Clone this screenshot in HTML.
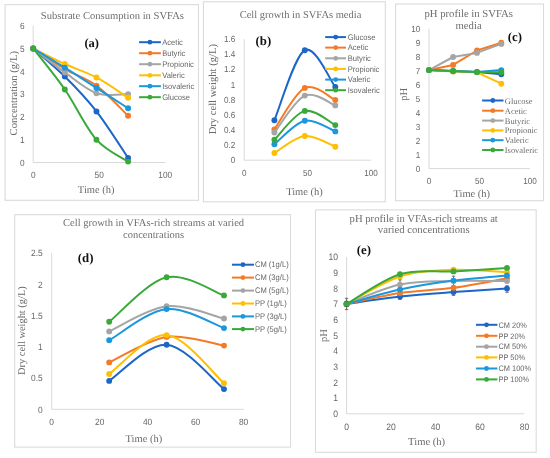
<!DOCTYPE html>
<html><head><meta charset="utf-8"><style>
html,body{margin:0;padding:0;background:#fff;width:550px;height:458px;overflow:hidden}
svg{display:block;text-rendering:geometricPrecision;will-change:transform;filter:blur(0.35px)}
</style></head><body>
<svg width="550" height="458" viewBox="0 0 550 458">
<rect width="550" height="458" fill="#fff"/>
<rect x="5.1" y="4.6" width="193.4" height="195.70000000000002" fill="#fff" stroke="#dbdbdb" stroke-width="1.1"/>
<text x="112.4" y="18.9" font-family="'Liberation Serif', serif" font-size="10.6" fill="#6e6e6e" text-anchor="middle" font-weight="normal">Substrate Consumption in SVFAs</text>
<line x1="33.2" y1="25.69999999999999" x2="33.2" y2="162.5" stroke="#d9d9d9" stroke-width="1"/>
<line x1="33.2" y1="162.5" x2="165.2" y2="162.5" stroke="#d9d9d9" stroke-width="1"/>
<text transform="translate(24.6 165.7) scale(0.92 1)" font-family="'Liberation Sans', sans-serif" font-size="9.0" fill="#666666" text-anchor="end" font-weight="normal">0</text>
<text transform="translate(24.6 142.89999999999998) scale(0.92 1)" font-family="'Liberation Sans', sans-serif" font-size="9.0" fill="#666666" text-anchor="end" font-weight="normal">1</text>
<text transform="translate(24.6 120.10000000000001) scale(0.92 1)" font-family="'Liberation Sans', sans-serif" font-size="9.0" fill="#666666" text-anchor="end" font-weight="normal">2</text>
<text transform="translate(24.6 97.3) scale(0.92 1)" font-family="'Liberation Sans', sans-serif" font-size="9.0" fill="#666666" text-anchor="end" font-weight="normal">3</text>
<text transform="translate(24.6 74.5) scale(0.92 1)" font-family="'Liberation Sans', sans-serif" font-size="9.0" fill="#666666" text-anchor="end" font-weight="normal">4</text>
<text transform="translate(24.6 51.7) scale(0.92 1)" font-family="'Liberation Sans', sans-serif" font-size="9.0" fill="#666666" text-anchor="end" font-weight="normal">5</text>
<text transform="translate(24.6 28.899999999999988) scale(0.92 1)" font-family="'Liberation Sans', sans-serif" font-size="9.0" fill="#666666" text-anchor="end" font-weight="normal">6</text>
<text transform="translate(33.2 178.2) scale(0.92 1)" font-family="'Liberation Sans', sans-serif" font-size="9.0" fill="#666666" text-anchor="middle" font-weight="normal">0</text>
<text transform="translate(99.2 178.2) scale(0.92 1)" font-family="'Liberation Sans', sans-serif" font-size="9.0" fill="#666666" text-anchor="middle" font-weight="normal">50</text>
<text transform="translate(165.2 178.2) scale(0.92 1)" font-family="'Liberation Sans', sans-serif" font-size="9.0" fill="#666666" text-anchor="middle" font-weight="normal">100</text>
<text x="96.2" y="192.5" font-family="'Liberation Serif', serif" font-size="10.5" fill="#6a6a6a" text-anchor="middle" font-weight="normal">Time (h)</text>
<text x="16.8" y="93.2" font-family="'Liberation Serif', serif" font-size="10.6" fill="#6a6a6a" text-anchor="middle" font-weight="normal" transform="rotate(-90 16.8 93.2)">Concentration (g/L)</text>
<text x="91.75" y="47.2" font-family="'Liberation Serif', serif" font-size="12.5" fill="#111" text-anchor="middle" font-weight="bold">(a)</text>
<path d="M33.20,48.50 C38.47,53.17 54.29,66.06 64.83,76.54 C75.38,87.03 85.92,97.86 96.46,111.43 C107.01,124.99 122.82,150.19 128.10,157.94" fill="none" stroke="#1c66c8" stroke-width="2.0" stroke-linejoin="round" stroke-linecap="round"/>
<circle cx="33.20" cy="48.50" r="2.95" fill="#1c66c8"/>
<circle cx="64.83" cy="76.54" r="2.95" fill="#1c66c8"/>
<circle cx="96.46" cy="111.43" r="2.95" fill="#1c66c8"/>
<circle cx="128.10" cy="157.94" r="2.95" fill="#1c66c8"/>
<path d="M33.20,48.50 C38.47,51.92 54.29,62.83 64.83,69.02 C75.38,75.21 85.92,77.87 96.46,85.66 C107.01,93.45 122.82,110.74 128.10,115.76" fill="none" stroke="#f57a26" stroke-width="2.0" stroke-linejoin="round" stroke-linecap="round"/>
<circle cx="33.20" cy="48.50" r="2.95" fill="#f57a26"/>
<circle cx="64.83" cy="69.02" r="2.95" fill="#f57a26"/>
<circle cx="96.46" cy="85.66" r="2.95" fill="#f57a26"/>
<circle cx="128.10" cy="115.76" r="2.95" fill="#f57a26"/>
<path d="M33.20,48.50 C38.47,52.49 54.29,64.99 64.83,72.44 C75.38,79.89 85.92,89.58 96.46,93.19 C107.01,96.80 122.82,93.95 128.10,94.10" fill="none" stroke="#a5a5a5" stroke-width="2.0" stroke-linejoin="round" stroke-linecap="round"/>
<circle cx="33.20" cy="48.50" r="2.95" fill="#a5a5a5"/>
<circle cx="64.83" cy="72.44" r="2.95" fill="#a5a5a5"/>
<circle cx="96.46" cy="93.19" r="2.95" fill="#a5a5a5"/>
<circle cx="128.10" cy="94.10" r="2.95" fill="#a5a5a5"/>
<path d="M33.20,48.50 C38.47,51.08 54.29,59.18 64.83,64.00 C75.38,68.83 85.92,71.83 96.46,77.46 C107.01,83.08 122.82,94.37 128.10,97.75" fill="none" stroke="#ffbf00" stroke-width="2.0" stroke-linejoin="round" stroke-linecap="round"/>
<circle cx="33.20" cy="48.50" r="2.95" fill="#ffbf00"/>
<circle cx="64.83" cy="64.00" r="2.95" fill="#ffbf00"/>
<circle cx="96.46" cy="77.46" r="2.95" fill="#ffbf00"/>
<circle cx="128.10" cy="97.75" r="2.95" fill="#ffbf00"/>
<path d="M33.20,48.50 C38.47,51.69 54.29,61.08 64.83,67.65 C75.38,74.23 85.92,81.18 96.46,87.94 C107.01,94.71 122.82,104.85 128.10,108.24" fill="none" stroke="#1b97dc" stroke-width="2.0" stroke-linejoin="round" stroke-linecap="round"/>
<circle cx="33.20" cy="48.50" r="2.95" fill="#1b97dc"/>
<circle cx="64.83" cy="67.65" r="2.95" fill="#1b97dc"/>
<circle cx="96.46" cy="87.94" r="2.95" fill="#1b97dc"/>
<circle cx="128.10" cy="108.24" r="2.95" fill="#1b97dc"/>
<path d="M33.20,48.50 C38.47,55.34 54.29,74.34 64.83,89.54 C75.38,104.74 85.92,127.69 96.46,139.70 C107.01,151.71 122.82,157.94 128.10,161.59" fill="none" stroke="#39a939" stroke-width="2.0" stroke-linejoin="round" stroke-linecap="round"/>
<circle cx="33.20" cy="48.50" r="2.95" fill="#39a939"/>
<circle cx="64.83" cy="89.54" r="2.95" fill="#39a939"/>
<circle cx="96.46" cy="139.70" r="2.95" fill="#39a939"/>
<circle cx="128.10" cy="161.59" r="2.95" fill="#39a939"/>
<line x1="139.1" y1="42.2" x2="160.9" y2="42.2" stroke="#1c66c8" stroke-width="2.0"/>
<circle cx="149.9" cy="42.2" r="2.4" fill="#1c66c8"/>
<text transform="translate(162.2 44.900000000000006) scale(0.935 1)" font-family="'Liberation Sans', sans-serif" font-size="8.132" fill="#666666" text-anchor="start" font-weight="normal">Acetic</text>
<line x1="139.1" y1="53.2" x2="160.9" y2="53.2" stroke="#f57a26" stroke-width="2.0"/>
<circle cx="149.9" cy="53.2" r="2.4" fill="#f57a26"/>
<text transform="translate(162.2 55.900000000000006) scale(0.935 1)" font-family="'Liberation Sans', sans-serif" font-size="8.132" fill="#666666" text-anchor="start" font-weight="normal">Butyric</text>
<line x1="139.1" y1="64.2" x2="160.9" y2="64.2" stroke="#a5a5a5" stroke-width="2.0"/>
<circle cx="149.9" cy="64.2" r="2.4" fill="#a5a5a5"/>
<text transform="translate(162.2 66.9) scale(0.935 1)" font-family="'Liberation Sans', sans-serif" font-size="8.132" fill="#666666" text-anchor="start" font-weight="normal">Propionic</text>
<line x1="139.1" y1="75.3" x2="160.9" y2="75.3" stroke="#ffbf00" stroke-width="2.0"/>
<circle cx="149.9" cy="75.3" r="2.4" fill="#ffbf00"/>
<text transform="translate(162.2 78.0) scale(0.935 1)" font-family="'Liberation Sans', sans-serif" font-size="8.132" fill="#666666" text-anchor="start" font-weight="normal">Valeric</text>
<line x1="139.1" y1="86.2" x2="160.9" y2="86.2" stroke="#1b97dc" stroke-width="2.0"/>
<circle cx="149.9" cy="86.2" r="2.4" fill="#1b97dc"/>
<text transform="translate(162.2 88.9) scale(0.935 1)" font-family="'Liberation Sans', sans-serif" font-size="8.132" fill="#666666" text-anchor="start" font-weight="normal">Isovaleric</text>
<line x1="139.1" y1="97.2" x2="160.9" y2="97.2" stroke="#39a939" stroke-width="2.0"/>
<circle cx="149.9" cy="97.2" r="2.4" fill="#39a939"/>
<text transform="translate(162.2 99.9) scale(0.935 1)" font-family="'Liberation Sans', sans-serif" font-size="8.132" fill="#666666" text-anchor="start" font-weight="normal">Glucose</text>
<rect x="203.4" y="1.7" width="181.9" height="200.10000000000002" fill="#fff" stroke="#dbdbdb" stroke-width="1.1"/>
<text x="300.5" y="17.9" font-family="'Liberation Serif', serif" font-size="10.5" fill="#6e6e6e" text-anchor="middle" font-weight="normal">Cell growth in SVFAs media</text>
<line x1="244.2" y1="39.079999999999984" x2="244.2" y2="160.2" stroke="#d9d9d9" stroke-width="1"/>
<line x1="244.2" y1="160.2" x2="371.2" y2="160.2" stroke="#d9d9d9" stroke-width="1"/>
<text transform="translate(235.2 163.29999999999998) scale(0.92 1)" font-family="'Liberation Sans', sans-serif" font-size="8.8" fill="#666666" text-anchor="end" font-weight="normal">0</text>
<text transform="translate(235.2 148.16) scale(0.92 1)" font-family="'Liberation Sans', sans-serif" font-size="8.8" fill="#666666" text-anchor="end" font-weight="normal">0.2</text>
<text transform="translate(235.2 133.01999999999998) scale(0.92 1)" font-family="'Liberation Sans', sans-serif" font-size="8.8" fill="#666666" text-anchor="end" font-weight="normal">0.4</text>
<text transform="translate(235.2 117.87999999999997) scale(0.92 1)" font-family="'Liberation Sans', sans-serif" font-size="8.8" fill="#666666" text-anchor="end" font-weight="normal">0.6</text>
<text transform="translate(235.2 102.73999999999998) scale(0.92 1)" font-family="'Liberation Sans', sans-serif" font-size="8.8" fill="#666666" text-anchor="end" font-weight="normal">0.8</text>
<text transform="translate(235.2 87.59999999999998) scale(0.92 1)" font-family="'Liberation Sans', sans-serif" font-size="8.8" fill="#666666" text-anchor="end" font-weight="normal">1</text>
<text transform="translate(235.2 72.45999999999997) scale(0.92 1)" font-family="'Liberation Sans', sans-serif" font-size="8.8" fill="#666666" text-anchor="end" font-weight="normal">1.2</text>
<text transform="translate(235.2 57.31999999999997) scale(0.92 1)" font-family="'Liberation Sans', sans-serif" font-size="8.8" fill="#666666" text-anchor="end" font-weight="normal">1.4</text>
<text transform="translate(235.2 42.179999999999986) scale(0.92 1)" font-family="'Liberation Sans', sans-serif" font-size="8.8" fill="#666666" text-anchor="end" font-weight="normal">1.6</text>
<text transform="translate(244.2 175.9) scale(0.92 1)" font-family="'Liberation Sans', sans-serif" font-size="8.8" fill="#666666" text-anchor="middle" font-weight="normal">0</text>
<text transform="translate(307.54999999999995 175.9) scale(0.92 1)" font-family="'Liberation Sans', sans-serif" font-size="8.8" fill="#666666" text-anchor="middle" font-weight="normal">50</text>
<text transform="translate(370.9 175.9) scale(0.92 1)" font-family="'Liberation Sans', sans-serif" font-size="8.8" fill="#666666" text-anchor="middle" font-weight="normal">100</text>
<text x="304.5" y="195.2" font-family="'Liberation Serif', serif" font-size="10.5" fill="#6a6a6a" text-anchor="middle" font-weight="normal">Time (h)</text>
<text x="215.8" y="89.2" font-family="'Liberation Serif', serif" font-size="10.6" fill="#6a6a6a" text-anchor="middle" font-weight="normal" transform="rotate(-90 215.8 89.2)">Dry cell weight (g/L)</text>
<text x="263.35" y="45.4" font-family="'Liberation Serif', serif" font-size="12.8" fill="#111" text-anchor="middle" font-weight="bold">(b)</text>
<path d="M274.40,120.20 C279.47,108.53 294.65,55.75 304.80,50.20 C314.95,44.65 330.22,80.78 335.30,86.90" fill="none" stroke="#1c66c8" stroke-width="2.0" stroke-linejoin="round" stroke-linecap="round"/>
<circle cx="274.40" cy="120.20" r="2.95" fill="#1c66c8"/>
<circle cx="304.80" cy="50.20" r="2.95" fill="#1c66c8"/>
<circle cx="335.30" cy="86.90" r="2.95" fill="#1c66c8"/>
<path d="M274.40,129.40 C279.47,122.48 294.65,92.80 304.80,87.90 C314.95,83.00 330.22,97.98 335.30,100.00" fill="none" stroke="#f57a26" stroke-width="2.0" stroke-linejoin="round" stroke-linecap="round"/>
<circle cx="274.40" cy="129.40" r="2.95" fill="#f57a26"/>
<circle cx="304.80" cy="87.90" r="2.95" fill="#f57a26"/>
<circle cx="335.30" cy="100.00" r="2.95" fill="#f57a26"/>
<path d="M274.40,132.50 C279.47,126.35 294.65,100.12 304.80,95.60 C314.95,91.08 330.22,103.77 335.30,105.40" fill="none" stroke="#a5a5a5" stroke-width="2.0" stroke-linejoin="round" stroke-linecap="round"/>
<circle cx="274.40" cy="132.50" r="2.95" fill="#a5a5a5"/>
<circle cx="304.80" cy="95.60" r="2.95" fill="#a5a5a5"/>
<circle cx="335.30" cy="105.40" r="2.95" fill="#a5a5a5"/>
<path d="M274.40,153.00 C279.47,150.17 294.65,137.05 304.80,136.00 C314.95,134.95 330.22,144.92 335.30,146.70" fill="none" stroke="#ffbf00" stroke-width="2.0" stroke-linejoin="round" stroke-linecap="round"/>
<circle cx="274.40" cy="153.00" r="2.95" fill="#ffbf00"/>
<circle cx="304.80" cy="136.00" r="2.95" fill="#ffbf00"/>
<circle cx="335.30" cy="146.70" r="2.95" fill="#ffbf00"/>
<path d="M274.40,144.30 C279.47,140.37 294.65,122.85 304.80,120.70 C314.95,118.55 330.22,129.62 335.30,131.40" fill="none" stroke="#1b97dc" stroke-width="2.0" stroke-linejoin="round" stroke-linecap="round"/>
<circle cx="274.40" cy="144.30" r="2.95" fill="#1b97dc"/>
<circle cx="304.80" cy="120.70" r="2.95" fill="#1b97dc"/>
<circle cx="335.30" cy="131.40" r="2.95" fill="#1b97dc"/>
<path d="M274.40,139.70 C279.47,134.90 294.65,113.33 304.80,110.90 C314.95,108.47 330.22,122.73 335.30,125.10" fill="none" stroke="#39a939" stroke-width="2.0" stroke-linejoin="round" stroke-linecap="round"/>
<circle cx="274.40" cy="139.70" r="2.95" fill="#39a939"/>
<circle cx="304.80" cy="110.90" r="2.95" fill="#39a939"/>
<circle cx="335.30" cy="125.10" r="2.95" fill="#39a939"/>
<line x1="325.2" y1="37.1" x2="346.0" y2="37.1" stroke="#1c66c8" stroke-width="2.0"/>
<circle cx="335.7" cy="37.1" r="2.4" fill="#1c66c8"/>
<text transform="translate(347.7 39.800000000000004) scale(0.935 1)" font-family="'Liberation Sans', sans-serif" font-size="8.132" fill="#666666" text-anchor="start" font-weight="normal">Glucose</text>
<line x1="325.2" y1="47.6" x2="346.0" y2="47.6" stroke="#f57a26" stroke-width="2.0"/>
<circle cx="335.7" cy="47.6" r="2.4" fill="#f57a26"/>
<text transform="translate(347.7 50.300000000000004) scale(0.935 1)" font-family="'Liberation Sans', sans-serif" font-size="8.132" fill="#666666" text-anchor="start" font-weight="normal">Acetic</text>
<line x1="325.2" y1="58.3" x2="346.0" y2="58.3" stroke="#a5a5a5" stroke-width="2.0"/>
<circle cx="335.7" cy="58.3" r="2.4" fill="#a5a5a5"/>
<text transform="translate(347.7 61.0) scale(0.935 1)" font-family="'Liberation Sans', sans-serif" font-size="8.132" fill="#666666" text-anchor="start" font-weight="normal">Butyric</text>
<line x1="325.2" y1="68.9" x2="346.0" y2="68.9" stroke="#ffbf00" stroke-width="2.0"/>
<circle cx="335.7" cy="68.9" r="2.4" fill="#ffbf00"/>
<text transform="translate(347.7 71.60000000000001) scale(0.935 1)" font-family="'Liberation Sans', sans-serif" font-size="8.132" fill="#666666" text-anchor="start" font-weight="normal">Propionic</text>
<line x1="325.2" y1="79.6" x2="346.0" y2="79.6" stroke="#1b97dc" stroke-width="2.0"/>
<circle cx="335.7" cy="79.6" r="2.4" fill="#1b97dc"/>
<text transform="translate(347.7 82.3) scale(0.935 1)" font-family="'Liberation Sans', sans-serif" font-size="8.132" fill="#666666" text-anchor="start" font-weight="normal">Valeric</text>
<line x1="325.2" y1="90.2" x2="346.0" y2="90.2" stroke="#39a939" stroke-width="2.0"/>
<circle cx="335.7" cy="90.2" r="2.4" fill="#39a939"/>
<text transform="translate(347.7 92.9) scale(0.935 1)" font-family="'Liberation Sans', sans-serif" font-size="8.132" fill="#666666" text-anchor="start" font-weight="normal">Isovaleric</text>
<rect x="395.6" y="4.0" width="147.89999999999998" height="196.7" fill="#fff" stroke="#dbdbdb" stroke-width="1.1"/>
<text x="468.7" y="16.9" font-family="'Liberation Serif', serif" font-size="10.7" fill="#6e6e6e" text-anchor="middle" font-weight="normal">pH profile in SVFAs</text>
<text x="468.6" y="28.5" font-family="'Liberation Serif', serif" font-size="10.7" fill="#6e6e6e" text-anchor="middle" font-weight="normal">media</text>
<line x1="429.0" y1="28.5" x2="429.0" y2="168.6" stroke="#d9d9d9" stroke-width="1"/>
<line x1="429.0" y1="168.6" x2="529.8" y2="168.6" stroke="#d9d9d9" stroke-width="1"/>
<text transform="translate(420.2 171.75) scale(0.92 1)" font-family="'Liberation Sans', sans-serif" font-size="8.8" fill="#666666" text-anchor="end" font-weight="normal">0</text>
<text transform="translate(420.2 157.74) scale(0.92 1)" font-family="'Liberation Sans', sans-serif" font-size="8.8" fill="#666666" text-anchor="end" font-weight="normal">1</text>
<text transform="translate(420.2 143.73) scale(0.92 1)" font-family="'Liberation Sans', sans-serif" font-size="8.8" fill="#666666" text-anchor="end" font-weight="normal">2</text>
<text transform="translate(420.2 129.72) scale(0.92 1)" font-family="'Liberation Sans', sans-serif" font-size="8.8" fill="#666666" text-anchor="end" font-weight="normal">3</text>
<text transform="translate(420.2 115.71000000000001) scale(0.92 1)" font-family="'Liberation Sans', sans-serif" font-size="8.8" fill="#666666" text-anchor="end" font-weight="normal">4</text>
<text transform="translate(420.2 101.7) scale(0.92 1)" font-family="'Liberation Sans', sans-serif" font-size="8.8" fill="#666666" text-anchor="end" font-weight="normal">5</text>
<text transform="translate(420.2 87.69) scale(0.92 1)" font-family="'Liberation Sans', sans-serif" font-size="8.8" fill="#666666" text-anchor="end" font-weight="normal">6</text>
<text transform="translate(420.2 73.68) scale(0.92 1)" font-family="'Liberation Sans', sans-serif" font-size="8.8" fill="#666666" text-anchor="end" font-weight="normal">7</text>
<text transform="translate(420.2 59.669999999999995) scale(0.92 1)" font-family="'Liberation Sans', sans-serif" font-size="8.8" fill="#666666" text-anchor="end" font-weight="normal">8</text>
<text transform="translate(420.2 45.65999999999999) scale(0.92 1)" font-family="'Liberation Sans', sans-serif" font-size="8.8" fill="#666666" text-anchor="end" font-weight="normal">9</text>
<text transform="translate(420.2 31.65) scale(0.92 1)" font-family="'Liberation Sans', sans-serif" font-size="8.8" fill="#666666" text-anchor="end" font-weight="normal">10</text>
<text transform="translate(429.0 184.0) scale(0.93 1)" font-family="'Liberation Sans', sans-serif" font-size="8.8" fill="#666666" text-anchor="middle" font-weight="normal">0</text>
<text transform="translate(479.5 184.0) scale(0.93 1)" font-family="'Liberation Sans', sans-serif" font-size="8.8" fill="#666666" text-anchor="middle" font-weight="normal">50</text>
<text transform="translate(530.0 184.0) scale(0.93 1)" font-family="'Liberation Sans', sans-serif" font-size="8.8" fill="#666666" text-anchor="middle" font-weight="normal">100</text>
<text x="471.8" y="197.0" font-family="'Liberation Serif', serif" font-size="10.5" fill="#6a6a6a" text-anchor="middle" font-weight="normal">Time (h)</text>
<text x="407.5" y="94.3" font-family="'Liberation Serif', serif" font-size="10.5" fill="#6a6a6a" text-anchor="middle" font-weight="normal" transform="rotate(-90 407.5 94.3)">pH</text>
<text x="514.95" y="40.9" font-family="'Liberation Serif', serif" font-size="12.8" fill="#111" text-anchor="middle" font-weight="bold">(c)</text>
<path d="M429.00,70.10 L453.10,71.20 L477.00,72.10 L501.30,74.20" fill="none" stroke="#1c66c8" stroke-width="2.0" stroke-linejoin="round" stroke-linecap="round"/>
<circle cx="429.00" cy="70.10" r="2.95" fill="#1c66c8"/>
<circle cx="453.10" cy="71.20" r="2.95" fill="#1c66c8"/>
<circle cx="477.00" cy="72.10" r="2.95" fill="#1c66c8"/>
<circle cx="501.30" cy="74.20" r="2.95" fill="#1c66c8"/>
<path d="M429.00,70.10 L453.10,64.90 L477.00,50.50 L501.30,42.80" fill="none" stroke="#f57a26" stroke-width="2.0" stroke-linejoin="round" stroke-linecap="round"/>
<circle cx="429.00" cy="70.10" r="2.95" fill="#f57a26"/>
<circle cx="453.10" cy="64.90" r="2.95" fill="#f57a26"/>
<circle cx="477.00" cy="50.50" r="2.95" fill="#f57a26"/>
<circle cx="501.30" cy="42.80" r="2.95" fill="#f57a26"/>
<path d="M429.00,70.10 L453.10,57.00 L477.00,52.90 L501.30,43.90" fill="none" stroke="#a5a5a5" stroke-width="2.0" stroke-linejoin="round" stroke-linecap="round"/>
<circle cx="429.00" cy="70.10" r="2.95" fill="#a5a5a5"/>
<circle cx="453.10" cy="57.00" r="2.95" fill="#a5a5a5"/>
<circle cx="477.00" cy="52.90" r="2.95" fill="#a5a5a5"/>
<circle cx="501.30" cy="43.90" r="2.95" fill="#a5a5a5"/>
<path d="M429.00,70.10 L453.10,71.60 L477.00,72.30 L501.30,83.70" fill="none" stroke="#ffbf00" stroke-width="2.0" stroke-linejoin="round" stroke-linecap="round"/>
<circle cx="429.00" cy="70.10" r="2.95" fill="#ffbf00"/>
<circle cx="453.10" cy="71.60" r="2.95" fill="#ffbf00"/>
<circle cx="477.00" cy="72.30" r="2.95" fill="#ffbf00"/>
<circle cx="501.30" cy="83.70" r="2.95" fill="#ffbf00"/>
<path d="M429.00,70.10 L453.10,71.00 L477.00,71.90 L501.30,70.10" fill="none" stroke="#1b97dc" stroke-width="2.0" stroke-linejoin="round" stroke-linecap="round"/>
<circle cx="429.00" cy="70.10" r="2.95" fill="#1b97dc"/>
<circle cx="453.10" cy="71.00" r="2.95" fill="#1b97dc"/>
<circle cx="477.00" cy="71.90" r="2.95" fill="#1b97dc"/>
<circle cx="501.30" cy="70.10" r="2.95" fill="#1b97dc"/>
<path d="M429.00,70.10 L453.10,70.90 L477.00,72.10 L501.30,72.20" fill="none" stroke="#39a939" stroke-width="2.0" stroke-linejoin="round" stroke-linecap="round"/>
<circle cx="429.00" cy="70.10" r="2.95" fill="#39a939"/>
<circle cx="453.10" cy="70.90" r="2.95" fill="#39a939"/>
<circle cx="477.00" cy="72.10" r="2.95" fill="#39a939"/>
<circle cx="501.30" cy="72.20" r="2.95" fill="#39a939"/>
<line x1="482.1" y1="100.5" x2="503.5" y2="100.5" stroke="#1c66c8" stroke-width="2.0"/>
<circle cx="492.8" cy="100.5" r="2.4" fill="#1c66c8"/>
<text x="504.8" y="103.5" font-family="'Liberation Serif', serif" font-size="8.45" fill="#6a6a6a" text-anchor="start" font-weight="normal">Glucose</text>
<line x1="482.1" y1="110.7" x2="503.5" y2="110.7" stroke="#f57a26" stroke-width="2.0"/>
<circle cx="492.8" cy="110.7" r="2.4" fill="#f57a26"/>
<text x="504.8" y="113.7" font-family="'Liberation Serif', serif" font-size="8.45" fill="#6a6a6a" text-anchor="start" font-weight="normal">Acetic</text>
<line x1="482.1" y1="120.6" x2="503.5" y2="120.6" stroke="#a5a5a5" stroke-width="2.0"/>
<circle cx="492.8" cy="120.6" r="2.4" fill="#a5a5a5"/>
<text x="504.8" y="123.6" font-family="'Liberation Serif', serif" font-size="8.45" fill="#6a6a6a" text-anchor="start" font-weight="normal">Butyric</text>
<line x1="482.1" y1="130.4" x2="503.5" y2="130.4" stroke="#ffbf00" stroke-width="2.0"/>
<circle cx="492.8" cy="130.4" r="2.4" fill="#ffbf00"/>
<text x="504.8" y="133.4" font-family="'Liberation Serif', serif" font-size="8.45" fill="#6a6a6a" text-anchor="start" font-weight="normal">Propionic</text>
<line x1="482.1" y1="140.2" x2="503.5" y2="140.2" stroke="#1b97dc" stroke-width="2.0"/>
<circle cx="492.8" cy="140.2" r="2.4" fill="#1b97dc"/>
<text x="504.8" y="143.2" font-family="'Liberation Serif', serif" font-size="8.45" fill="#6a6a6a" text-anchor="start" font-weight="normal">Valeric</text>
<line x1="482.1" y1="150.0" x2="503.5" y2="150.0" stroke="#39a939" stroke-width="2.0"/>
<circle cx="492.8" cy="150.0" r="2.4" fill="#39a939"/>
<text x="504.8" y="153.0" font-family="'Liberation Serif', serif" font-size="8.45" fill="#6a6a6a" text-anchor="start" font-weight="normal">Isovaleric</text>
<rect x="14.7" y="214.7" width="275.8" height="232.40000000000003" fill="#fff" stroke="#dbdbdb" stroke-width="1.1"/>
<text x="153.6" y="226.0" font-family="'Liberation Serif', serif" font-size="10.5" fill="#6e6e6e" text-anchor="middle" font-weight="normal">Cell growth in VFAs-rich streams at varied</text>
<text x="153.6" y="238.3" font-family="'Liberation Serif', serif" font-size="10.5" fill="#6e6e6e" text-anchor="middle" font-weight="normal">concentrations</text>
<line x1="51.7" y1="253.05" x2="51.7" y2="409.3" stroke="#d9d9d9" stroke-width="1"/>
<line x1="51.7" y1="409.3" x2="243.8" y2="409.3" stroke="#d9d9d9" stroke-width="1"/>
<text transform="translate(42.7 412.55) scale(0.92 1)" font-family="'Liberation Sans', sans-serif" font-size="9.1" fill="#666666" text-anchor="end" font-weight="normal">0</text>
<text transform="translate(42.7 381.3) scale(0.92 1)" font-family="'Liberation Sans', sans-serif" font-size="9.1" fill="#666666" text-anchor="end" font-weight="normal">0.5</text>
<text transform="translate(42.7 350.05) scale(0.92 1)" font-family="'Liberation Sans', sans-serif" font-size="9.1" fill="#666666" text-anchor="end" font-weight="normal">1</text>
<text transform="translate(42.7 318.8) scale(0.92 1)" font-family="'Liberation Sans', sans-serif" font-size="9.1" fill="#666666" text-anchor="end" font-weight="normal">1.5</text>
<text transform="translate(42.7 287.55) scale(0.92 1)" font-family="'Liberation Sans', sans-serif" font-size="9.1" fill="#666666" text-anchor="end" font-weight="normal">2</text>
<text transform="translate(42.7 256.3) scale(0.92 1)" font-family="'Liberation Sans', sans-serif" font-size="9.1" fill="#666666" text-anchor="end" font-weight="normal">2.5</text>
<text transform="translate(51.7 424.5) scale(0.92 1)" font-family="'Liberation Sans', sans-serif" font-size="9.1" fill="#666666" text-anchor="middle" font-weight="normal">0</text>
<text transform="translate(99.66 424.5) scale(0.92 1)" font-family="'Liberation Sans', sans-serif" font-size="9.1" fill="#666666" text-anchor="middle" font-weight="normal">20</text>
<text transform="translate(147.62 424.5) scale(0.92 1)" font-family="'Liberation Sans', sans-serif" font-size="9.1" fill="#666666" text-anchor="middle" font-weight="normal">40</text>
<text transform="translate(195.57999999999998 424.5) scale(0.92 1)" font-family="'Liberation Sans', sans-serif" font-size="9.1" fill="#666666" text-anchor="middle" font-weight="normal">60</text>
<text transform="translate(243.54000000000002 424.5) scale(0.92 1)" font-family="'Liberation Sans', sans-serif" font-size="9.1" fill="#666666" text-anchor="middle" font-weight="normal">80</text>
<text x="143.9" y="442.0" font-family="'Liberation Serif', serif" font-size="10.5" fill="#6a6a6a" text-anchor="middle" font-weight="normal">Time (h)</text>
<text x="25.5" y="330.6" font-family="'Liberation Serif', serif" font-size="10.4" fill="#6a6a6a" text-anchor="middle" font-weight="normal" transform="rotate(-90 25.5 330.6)">Dry cell weight (g/L)</text>
<text x="85.6" y="262.3" font-family="'Liberation Serif', serif" font-size="12.8" fill="#111" text-anchor="middle" font-weight="bold">(d)</text>
<path d="M109.20,380.90 C118.77,374.87 147.47,343.33 166.60,344.70 C185.73,346.07 214.43,381.70 224.00,389.10" fill="none" stroke="#1c66c8" stroke-width="2.0" stroke-linejoin="round" stroke-linecap="round"/>
<circle cx="109.20" cy="380.90" r="2.95" fill="#1c66c8"/>
<circle cx="166.60" cy="344.70" r="2.95" fill="#1c66c8"/>
<circle cx="224.00" cy="389.10" r="2.95" fill="#1c66c8"/>
<path d="M109.20,362.40 C118.77,358.15 147.47,339.70 166.60,336.90 C185.73,334.10 214.43,344.15 224.00,345.60" fill="none" stroke="#f57a26" stroke-width="2.0" stroke-linejoin="round" stroke-linecap="round"/>
<circle cx="109.20" cy="362.40" r="2.95" fill="#f57a26"/>
<circle cx="166.60" cy="336.90" r="2.95" fill="#f57a26"/>
<circle cx="224.00" cy="345.60" r="2.95" fill="#f57a26"/>
<path d="M109.20,331.40 C118.77,327.22 147.47,308.45 166.60,306.30 C185.73,304.15 214.43,316.47 224.00,318.50" fill="none" stroke="#a5a5a5" stroke-width="2.0" stroke-linejoin="round" stroke-linecap="round"/>
<circle cx="109.20" cy="331.40" r="2.95" fill="#a5a5a5"/>
<circle cx="166.60" cy="306.30" r="2.95" fill="#a5a5a5"/>
<circle cx="224.00" cy="318.50" r="2.95" fill="#a5a5a5"/>
<path d="M109.20,374.00 C118.77,367.52 147.47,333.57 166.60,335.10 C185.73,336.63 214.43,375.18 224.00,383.20" fill="none" stroke="#ffbf00" stroke-width="2.0" stroke-linejoin="round" stroke-linecap="round"/>
<circle cx="109.20" cy="374.00" r="2.95" fill="#ffbf00"/>
<circle cx="166.60" cy="335.10" r="2.95" fill="#ffbf00"/>
<circle cx="224.00" cy="383.20" r="2.95" fill="#ffbf00"/>
<path d="M109.20,340.30 C118.77,335.10 147.47,311.13 166.60,309.10 C185.73,307.07 214.43,324.93 224.00,328.10" fill="none" stroke="#1b97dc" stroke-width="2.0" stroke-linejoin="round" stroke-linecap="round"/>
<circle cx="109.20" cy="340.30" r="2.95" fill="#1b97dc"/>
<circle cx="166.60" cy="309.10" r="2.95" fill="#1b97dc"/>
<circle cx="224.00" cy="328.10" r="2.95" fill="#1b97dc"/>
<path d="M109.20,321.80 C118.77,314.38 147.47,281.70 166.60,277.30 C185.73,272.90 214.43,292.38 224.00,295.40" fill="none" stroke="#39a939" stroke-width="2.0" stroke-linejoin="round" stroke-linecap="round"/>
<circle cx="109.20" cy="321.80" r="2.95" fill="#39a939"/>
<circle cx="166.60" cy="277.30" r="2.95" fill="#39a939"/>
<circle cx="224.00" cy="295.40" r="2.95" fill="#39a939"/>
<line x1="232.0" y1="264.7" x2="254.0" y2="264.7" stroke="#1c66c8" stroke-width="2.0"/>
<circle cx="242.9" cy="264.7" r="2.4" fill="#1c66c8"/>
<text transform="translate(254.9 267.4) scale(0.935 1)" font-family="'Liberation Sans', sans-serif" font-size="8.132" fill="#666666" text-anchor="start" font-weight="normal">CM (1g/L)</text>
<line x1="232.0" y1="277.6" x2="254.0" y2="277.6" stroke="#f57a26" stroke-width="2.0"/>
<circle cx="242.9" cy="277.6" r="2.4" fill="#f57a26"/>
<text transform="translate(254.9 280.3) scale(0.935 1)" font-family="'Liberation Sans', sans-serif" font-size="8.132" fill="#666666" text-anchor="start" font-weight="normal">CM (3g/L)</text>
<line x1="232.0" y1="290.6" x2="254.0" y2="290.6" stroke="#a5a5a5" stroke-width="2.0"/>
<circle cx="242.9" cy="290.6" r="2.4" fill="#a5a5a5"/>
<text transform="translate(254.9 293.3) scale(0.935 1)" font-family="'Liberation Sans', sans-serif" font-size="8.132" fill="#666666" text-anchor="start" font-weight="normal">CM (5g/L)</text>
<line x1="232.0" y1="303.5" x2="254.0" y2="303.5" stroke="#ffbf00" stroke-width="2.0"/>
<circle cx="242.9" cy="303.5" r="2.4" fill="#ffbf00"/>
<text transform="translate(254.9 306.2) scale(0.935 1)" font-family="'Liberation Sans', sans-serif" font-size="8.132" fill="#666666" text-anchor="start" font-weight="normal">PP (1g/L)</text>
<line x1="232.0" y1="316.4" x2="254.0" y2="316.4" stroke="#1b97dc" stroke-width="2.0"/>
<circle cx="242.9" cy="316.4" r="2.4" fill="#1b97dc"/>
<text transform="translate(254.9 319.09999999999997) scale(0.935 1)" font-family="'Liberation Sans', sans-serif" font-size="8.132" fill="#666666" text-anchor="start" font-weight="normal">PP (3g/L)</text>
<line x1="232.0" y1="329.1" x2="254.0" y2="329.1" stroke="#39a939" stroke-width="2.0"/>
<circle cx="242.9" cy="329.1" r="2.4" fill="#39a939"/>
<text transform="translate(254.9 331.8) scale(0.935 1)" font-family="'Liberation Sans', sans-serif" font-size="8.132" fill="#666666" text-anchor="start" font-weight="normal">PP (5g/L)</text>
<rect x="315.5" y="209.9" width="220.70000000000005" height="242.4" fill="#fff" stroke="#dbdbdb" stroke-width="1.1"/>
<text x="423.7" y="222.0" font-family="'Liberation Serif', serif" font-size="10.7" fill="#6e6e6e" text-anchor="middle" font-weight="normal">pH profile in VFAs-rich streams at</text>
<text x="423.7" y="233.0" font-family="'Liberation Serif', serif" font-size="10.7" fill="#6e6e6e" text-anchor="middle" font-weight="normal">varied concentrations</text>
<line x1="346.6" y1="256.9" x2="346.6" y2="413.8" stroke="#d9d9d9" stroke-width="1"/>
<line x1="346.6" y1="413.8" x2="524.4" y2="413.8" stroke="#d9d9d9" stroke-width="1"/>
<text transform="translate(338.1 417.1) scale(0.92 1)" font-family="'Liberation Sans', sans-serif" font-size="9.3" fill="#666666" text-anchor="end" font-weight="normal">0</text>
<text transform="translate(338.1 401.41) scale(0.92 1)" font-family="'Liberation Sans', sans-serif" font-size="9.3" fill="#666666" text-anchor="end" font-weight="normal">1</text>
<text transform="translate(338.1 385.72) scale(0.92 1)" font-family="'Liberation Sans', sans-serif" font-size="9.3" fill="#666666" text-anchor="end" font-weight="normal">2</text>
<text transform="translate(338.1 370.03000000000003) scale(0.92 1)" font-family="'Liberation Sans', sans-serif" font-size="9.3" fill="#666666" text-anchor="end" font-weight="normal">3</text>
<text transform="translate(338.1 354.34000000000003) scale(0.92 1)" font-family="'Liberation Sans', sans-serif" font-size="9.3" fill="#666666" text-anchor="end" font-weight="normal">4</text>
<text transform="translate(338.1 338.65000000000003) scale(0.92 1)" font-family="'Liberation Sans', sans-serif" font-size="9.3" fill="#666666" text-anchor="end" font-weight="normal">5</text>
<text transform="translate(338.1 322.96000000000004) scale(0.92 1)" font-family="'Liberation Sans', sans-serif" font-size="9.3" fill="#666666" text-anchor="end" font-weight="normal">6</text>
<text transform="translate(338.1 307.27000000000004) scale(0.92 1)" font-family="'Liberation Sans', sans-serif" font-size="9.3" fill="#666666" text-anchor="end" font-weight="normal">7</text>
<text transform="translate(338.1 291.58000000000004) scale(0.92 1)" font-family="'Liberation Sans', sans-serif" font-size="9.3" fill="#666666" text-anchor="end" font-weight="normal">8</text>
<text transform="translate(338.1 275.89000000000004) scale(0.92 1)" font-family="'Liberation Sans', sans-serif" font-size="9.3" fill="#666666" text-anchor="end" font-weight="normal">9</text>
<text transform="translate(338.1 260.2) scale(0.92 1)" font-family="'Liberation Sans', sans-serif" font-size="9.3" fill="#666666" text-anchor="end" font-weight="normal">10</text>
<text transform="translate(346.6 430.1) scale(0.92 1)" font-family="'Liberation Sans', sans-serif" font-size="9.3" fill="#666666" text-anchor="middle" font-weight="normal">0</text>
<text transform="translate(391.06 430.1) scale(0.92 1)" font-family="'Liberation Sans', sans-serif" font-size="9.3" fill="#666666" text-anchor="middle" font-weight="normal">20</text>
<text transform="translate(435.52 430.1) scale(0.92 1)" font-family="'Liberation Sans', sans-serif" font-size="9.3" fill="#666666" text-anchor="middle" font-weight="normal">40</text>
<text transform="translate(479.98 430.1) scale(0.92 1)" font-family="'Liberation Sans', sans-serif" font-size="9.3" fill="#666666" text-anchor="middle" font-weight="normal">60</text>
<text transform="translate(524.44 430.1) scale(0.92 1)" font-family="'Liberation Sans', sans-serif" font-size="9.3" fill="#666666" text-anchor="middle" font-weight="normal">80</text>
<text x="426.6" y="444.7" font-family="'Liberation Serif', serif" font-size="10.6" fill="#6a6a6a" text-anchor="middle" font-weight="normal">Time (h)</text>
<text x="326.6" y="335.5" font-family="'Liberation Serif', serif" font-size="10.5" fill="#6a6a6a" text-anchor="middle" font-weight="normal" transform="rotate(-90 326.6 335.5)">pH</text>
<text x="363.8" y="253.6" font-family="'Liberation Serif', serif" font-size="12.8" fill="#111" text-anchor="middle" font-weight="bold">(e)</text>
<line x1="346.6" y1="298.3" x2="346.6" y2="309.6" stroke="#606060" stroke-width="0.9"/>
<line x1="400.0" y1="279.9" x2="400.0" y2="299.4" stroke="#606060" stroke-width="0.9"/>
<line x1="453.5" y1="276.2" x2="453.5" y2="295.4" stroke="#606060" stroke-width="0.9"/>
<line x1="507.0" y1="285.8" x2="507.0" y2="292.3" stroke="#606060" stroke-width="0.9"/>
<path d="M346.60,304.00 C355.50,302.77 382.18,298.58 400.00,296.60 C417.82,294.62 435.67,293.43 453.50,292.10 C471.33,290.77 498.08,289.18 507.00,288.60" fill="none" stroke="#1c66c8" stroke-width="2.0" stroke-linejoin="round" stroke-linecap="round"/>
<circle cx="346.60" cy="304.00" r="2.95" fill="#1c66c8"/>
<circle cx="400.00" cy="296.60" r="2.95" fill="#1c66c8"/>
<circle cx="453.50" cy="292.10" r="2.95" fill="#1c66c8"/>
<circle cx="507.00" cy="288.60" r="2.95" fill="#1c66c8"/>
<path d="M346.60,304.00 C355.50,302.18 382.18,295.80 400.00,293.10 C417.82,290.40 435.67,290.28 453.50,287.80 C471.33,285.32 498.08,279.80 507.00,278.20" fill="none" stroke="#f57a26" stroke-width="2.0" stroke-linejoin="round" stroke-linecap="round"/>
<circle cx="346.60" cy="304.00" r="2.95" fill="#f57a26"/>
<circle cx="400.00" cy="293.10" r="2.95" fill="#f57a26"/>
<circle cx="453.50" cy="287.80" r="2.95" fill="#f57a26"/>
<circle cx="507.00" cy="278.20" r="2.95" fill="#f57a26"/>
<path d="M346.60,304.00 C355.50,300.77 382.18,288.43 400.00,284.60 C417.82,280.77 435.67,281.58 453.50,281.00 C471.33,280.42 498.08,281.08 507.00,281.10" fill="none" stroke="#a5a5a5" stroke-width="2.0" stroke-linejoin="round" stroke-linecap="round"/>
<circle cx="346.60" cy="304.00" r="2.95" fill="#a5a5a5"/>
<circle cx="400.00" cy="284.60" r="2.95" fill="#a5a5a5"/>
<circle cx="453.50" cy="281.00" r="2.95" fill="#a5a5a5"/>
<circle cx="507.00" cy="281.10" r="2.95" fill="#a5a5a5"/>
<path d="M346.60,304.00 C355.50,299.42 382.18,282.20 400.00,276.50 C417.82,270.80 435.67,270.52 453.50,269.80 C471.33,269.08 498.08,271.80 507.00,272.20" fill="none" stroke="#ffbf00" stroke-width="2.0" stroke-linejoin="round" stroke-linecap="round"/>
<circle cx="346.60" cy="304.00" r="2.95" fill="#ffbf00"/>
<circle cx="400.00" cy="276.50" r="2.95" fill="#ffbf00"/>
<circle cx="453.50" cy="269.80" r="2.95" fill="#ffbf00"/>
<circle cx="507.00" cy="272.20" r="2.95" fill="#ffbf00"/>
<path d="M346.60,304.00 C355.50,301.60 382.18,293.50 400.00,289.60 C417.82,285.70 435.67,282.95 453.50,280.60 C471.33,278.25 498.08,276.35 507.00,275.50" fill="none" stroke="#1b97dc" stroke-width="2.0" stroke-linejoin="round" stroke-linecap="round"/>
<circle cx="346.60" cy="304.00" r="2.95" fill="#1b97dc"/>
<circle cx="400.00" cy="289.60" r="2.95" fill="#1b97dc"/>
<circle cx="453.50" cy="280.60" r="2.95" fill="#1b97dc"/>
<circle cx="507.00" cy="275.50" r="2.95" fill="#1b97dc"/>
<path d="M346.60,304.00 C355.50,299.03 382.18,279.63 400.00,274.20 C417.82,268.77 435.67,272.45 453.50,271.40 C471.33,270.35 498.08,268.48 507.00,267.90" fill="none" stroke="#39a939" stroke-width="2.0" stroke-linejoin="round" stroke-linecap="round"/>
<circle cx="346.60" cy="304.00" r="2.95" fill="#39a939"/>
<circle cx="400.00" cy="274.20" r="2.95" fill="#39a939"/>
<circle cx="453.50" cy="271.40" r="2.95" fill="#39a939"/>
<circle cx="507.00" cy="267.90" r="2.95" fill="#39a939"/>
<line x1="344.90000000000003" y1="298.3" x2="348.3" y2="298.3" stroke="#606060" stroke-width="0.9"/>
<line x1="344.90000000000003" y1="309.6" x2="348.3" y2="309.6" stroke="#606060" stroke-width="0.9"/>
<line x1="398.3" y1="279.9" x2="401.7" y2="279.9" stroke="#606060" stroke-width="0.9"/>
<line x1="398.3" y1="299.4" x2="401.7" y2="299.4" stroke="#606060" stroke-width="0.9"/>
<line x1="451.8" y1="276.2" x2="455.2" y2="276.2" stroke="#606060" stroke-width="0.9"/>
<line x1="451.8" y1="295.4" x2="455.2" y2="295.4" stroke="#606060" stroke-width="0.9"/>
<line x1="505.3" y1="285.8" x2="508.7" y2="285.8" stroke="#606060" stroke-width="0.9"/>
<line x1="505.3" y1="292.3" x2="508.7" y2="292.3" stroke="#606060" stroke-width="0.9"/>
<line x1="344.90000000000003" y1="301.2" x2="348.3" y2="301.2" stroke="#606060" stroke-width="0.9"/>
<line x1="344.90000000000003" y1="306.6" x2="348.3" y2="306.6" stroke="#606060" stroke-width="0.9"/>
<line x1="476.0" y1="324.8" x2="497.4" y2="324.8" stroke="#1c66c8" stroke-width="2.0"/>
<circle cx="486.5" cy="324.8" r="2.4" fill="#1c66c8"/>
<text transform="translate(498.5 327.5) scale(0.935 1)" font-family="'Liberation Sans', sans-serif" font-size="7.918000000000001" fill="#666666" text-anchor="start" font-weight="normal">CM 20%</text>
<line x1="476.0" y1="335.8" x2="497.4" y2="335.8" stroke="#f57a26" stroke-width="2.0"/>
<circle cx="486.5" cy="335.8" r="2.4" fill="#f57a26"/>
<text transform="translate(498.5 338.5) scale(0.935 1)" font-family="'Liberation Sans', sans-serif" font-size="7.918000000000001" fill="#666666" text-anchor="start" font-weight="normal">PP 20%</text>
<line x1="476.0" y1="346.7" x2="497.4" y2="346.7" stroke="#a5a5a5" stroke-width="2.0"/>
<circle cx="486.5" cy="346.7" r="2.4" fill="#a5a5a5"/>
<text transform="translate(498.5 349.4) scale(0.935 1)" font-family="'Liberation Sans', sans-serif" font-size="7.918000000000001" fill="#666666" text-anchor="start" font-weight="normal">CM 50%</text>
<line x1="476.0" y1="357.4" x2="497.4" y2="357.4" stroke="#ffbf00" stroke-width="2.0"/>
<circle cx="486.5" cy="357.4" r="2.4" fill="#ffbf00"/>
<text transform="translate(498.5 360.09999999999997) scale(0.935 1)" font-family="'Liberation Sans', sans-serif" font-size="7.918000000000001" fill="#666666" text-anchor="start" font-weight="normal">PP 50%</text>
<line x1="476.0" y1="368.5" x2="497.4" y2="368.5" stroke="#1b97dc" stroke-width="2.0"/>
<circle cx="486.5" cy="368.5" r="2.4" fill="#1b97dc"/>
<text transform="translate(498.5 371.2) scale(0.935 1)" font-family="'Liberation Sans', sans-serif" font-size="7.918000000000001" fill="#666666" text-anchor="start" font-weight="normal">CM 100%</text>
<line x1="476.0" y1="379.4" x2="497.4" y2="379.4" stroke="#39a939" stroke-width="2.0"/>
<circle cx="486.5" cy="379.4" r="2.4" fill="#39a939"/>
<text transform="translate(498.5 382.09999999999997) scale(0.935 1)" font-family="'Liberation Sans', sans-serif" font-size="7.918000000000001" fill="#666666" text-anchor="start" font-weight="normal">PP 100%</text>
</svg>
</body></html>
